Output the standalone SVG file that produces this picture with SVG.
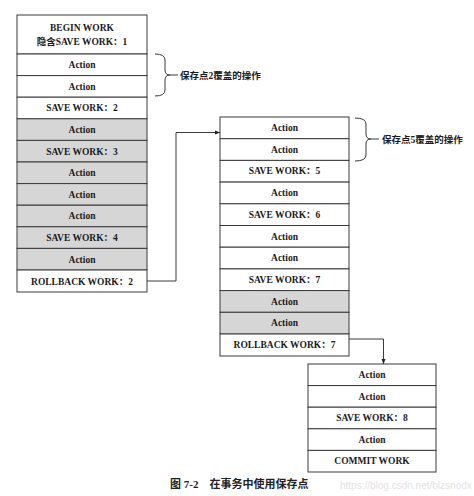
<svg xmlns="http://www.w3.org/2000/svg" width="474" height="496" viewBox="0 0 474 496">
<defs>
<style>
.box{fill:#ffffff;stroke:#3a3a3a;stroke-width:1}
.sh{fill:#d6d6d6;stroke:#3a3a3a;stroke-width:1}
.t{font-family:"Liberation Serif","Noto Sans CJK SC",serif;font-weight:bold;font-size:9.5px;fill:#1a1a1a;text-anchor:middle}
.lbl{font-family:"Liberation Serif","Noto Sans CJK SC",serif;font-weight:bold;font-size:9.5px;fill:#1a1a1a}
.cap{font-family:"Liberation Serif","Noto Sans CJK SC",serif;font-weight:bold;font-size:11px;fill:#222}
.wm{font-family:"Liberation Sans",sans-serif;font-size:10px;fill:#e2e2e2}
.ln{fill:none;stroke:#3a3a3a;stroke-width:1}
</style>
<marker id="ah" viewBox="0 0 10 10" refX="10" refY="5" markerWidth="5" markerHeight="5" orient="auto" markerUnits="userSpaceOnUse">
<path d="M0,1 L10,5 L0,9 z" fill="#222"/>
</marker>
</defs>
<rect width="474" height="496" fill="#ffffff"/>

<g id="stack1">
<rect class="box" x="17" y="15" width="130" height="39"/>
<text class="t" x="82" y="31">BEGIN WORK</text>
<text class="t" x="82" y="45">隐含SAVE WORK：1</text>
<rect class="box" x="17" y="54" width="130" height="21.6"/>
<text class="t" x="82" y="68">Action</text>
<rect class="box" x="17" y="75.6" width="130" height="21.6"/>
<text class="t" x="82" y="89.5">Action</text>
<rect class="box" x="17" y="97.2" width="130" height="21.6"/>
<text class="t" x="82" y="111">SAVE WORK：2</text>
<rect class="sh" x="17" y="118.8" width="130" height="21.6"/>
<text class="t" x="82" y="133">Action</text>
<rect class="sh" x="17" y="140.4" width="130" height="21.6"/>
<text class="t" x="82" y="154.5">SAVE WORK：3</text>
<rect class="sh" x="17" y="162" width="130" height="21.6"/>
<text class="t" x="82" y="176">Action</text>
<rect class="sh" x="17" y="183.6" width="130" height="21.6"/>
<text class="t" x="82" y="197.5">Action</text>
<rect class="sh" x="17" y="205.2" width="130" height="21.6"/>
<text class="t" x="82" y="219">Action</text>
<rect class="sh" x="17" y="226.8" width="130" height="21.6"/>
<text class="t" x="82" y="241">SAVE WORK：4</text>
<rect class="sh" x="17" y="248.4" width="130" height="21.6"/>
<text class="t" x="82" y="262.5">Action</text>
<rect class="box" x="17" y="270" width="130" height="22"/>
<text class="t" x="82" y="284.5">ROLLBACK WORK：2</text>
</g>

<g id="stack2">
<rect class="box" x="220" y="117" width="129" height="21.7"/>
<text class="t" x="284.5" y="131">Action</text>
<rect class="box" x="220" y="138.7" width="129" height="21.7"/>
<text class="t" x="284.5" y="152.7">Action</text>
<rect class="box" x="220" y="160.4" width="129" height="21.7"/>
<text class="t" x="284.5" y="174.4">SAVE WORK：5</text>
<rect class="box" x="220" y="182.1" width="129" height="21.7"/>
<text class="t" x="284.5" y="196.1">Action</text>
<rect class="box" x="220" y="203.8" width="129" height="21.7"/>
<text class="t" x="284.5" y="217.8">SAVE WORK：6</text>
<rect class="box" x="220" y="225.5" width="129" height="21.7"/>
<text class="t" x="284.5" y="239.5">Action</text>
<rect class="box" x="220" y="247.2" width="129" height="21.7"/>
<text class="t" x="284.5" y="261.2">Action</text>
<rect class="box" x="220" y="268.9" width="129" height="21.7"/>
<text class="t" x="284.5" y="282.9">SAVE WORK：7</text>
<rect class="sh" x="220" y="290.6" width="129" height="21.7"/>
<text class="t" x="284.5" y="304.6">Action</text>
<rect class="sh" x="220" y="312.3" width="129" height="21.7"/>
<text class="t" x="284.5" y="326.3">Action</text>
<rect class="box" x="220" y="334" width="129" height="22"/>
<text class="t" x="284.5" y="348.2">ROLLBACK WORK：7</text>
</g>

<g id="stack3">
<rect class="box" x="308" y="364" width="128" height="21.6"/>
<text class="t" x="372" y="378">Action</text>
<rect class="box" x="308" y="385.6" width="128" height="21.6"/>
<text class="t" x="372" y="399.6">Action</text>
<rect class="box" x="308" y="407.2" width="128" height="21.6"/>
<text class="t" x="372" y="421.2">SAVE WORK：8</text>
<rect class="box" x="308" y="428.8" width="128" height="21.6"/>
<text class="t" x="372" y="442.8">Action</text>
<rect class="box" x="308" y="450.4" width="128" height="21.6"/>
<text class="t" x="372" y="464.4">COMMIT WORK</text>
</g>

<g id="brace1">
<path class="ln" d="M155,54 Q165,54 165,60 V70 Q165,75 170,75 Q165,75 165,80 V90 Q165,96 155,96"/>
<path class="ln" d="M170,75 H178"/>
<text class="lbl" x="180" y="78.5">保存点2覆盖的操作</text>
</g>

<g id="brace2">
<path class="ln" d="M355,118 Q366,118 366,124 V134 Q366,139 371,139 Q366,139 366,144 V155 Q366,161 355,161"/>
<path class="ln" d="M371,139 H379"/>
<text class="lbl" x="382" y="142.5">保存点5覆盖的操作</text>
</g>

<g id="connectors">
<path class="ln" d="M147,281 H176 V132.5 H220" marker-end="url(#ah)"/>
<path class="ln" d="M349,339 H383.5 V364" marker-end="url(#ah)"/>
</g>

<text class="cap" x="170" y="488">图 7-2　在事务中使用保存点</text>
<text class="wm" x="340" y="489">https://blog.csdn.net/blzsnodx</text>
</svg>
